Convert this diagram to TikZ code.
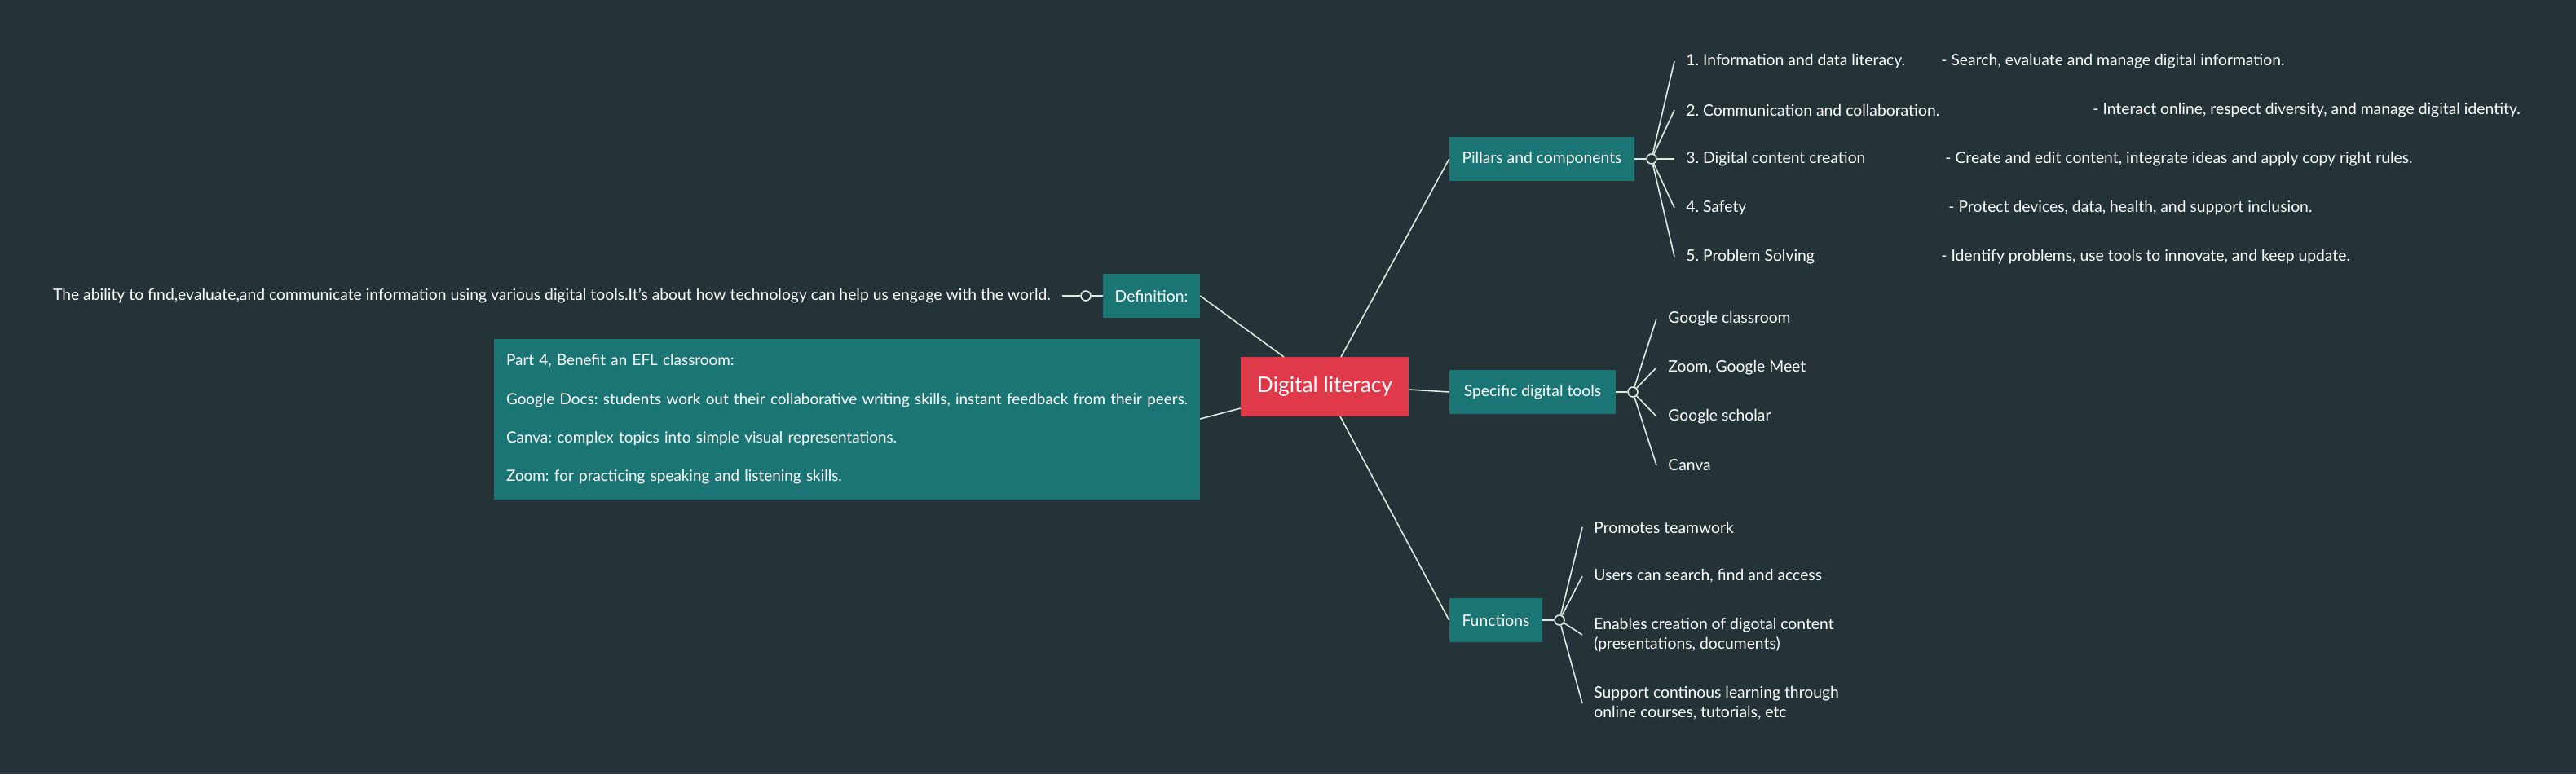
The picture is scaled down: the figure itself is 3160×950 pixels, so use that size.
\documentclass[tikz,border=0pt]{standalone}
\usepackage{fontspec}
\setmainfont{Lato}
\usetikzlibrary{calc}
\frenchspacing

\definecolor{bgslate}{HTML}{233338}
\definecolor{tealbox}{HTML}{1B7574}
\definecolor{rootred}{HTML}{E03A4A}
\definecolor{linkmint}{HTML}{DCEFE4}

\tikzset{
    topic/.style = {fill=tealbox, text=white, inner sep=0pt, minimum height=1.08cm, font=\fontsize{11pt}{13.6pt}\selectfont},
    leaf/.style = {text=white, inner xsep=0.28cm, inner ysep=0pt, align=left, font=\fontsize{11pt}{13.6pt}\selectfont},
    note/.style = {text=white, inner sep=0pt, anchor=west, font=\fontsize{11pt}{13.6pt}\selectfont},
    branch/.style = {draw=linkmint, line width=0.9pt},
    knot/.style = {circle, draw=linkmint, line width=0.9pt, fill=bgslate, inner sep=0pt, minimum size=0.24cm}
}

\begin{document}
\begin{tikzpicture}[x=0.02cm, y=-0.02cm]
    % Background
    \fill[bgslate] (0,0) rectangle (3160,950);
    \useasboundingbox (0,0) rectangle (3160,950);

    % Central topic
    \node[fill=rootred, text=white, minimum width=4.12cm, minimum height=1.46cm, inner sep=0pt, font=\fontsize{15pt}{18pt}\selectfont] (root) at (1625,474.5) {Digital literacy};

    % Main topics
    \node[topic, minimum width=2.38cm] (defn) at (1412.5,363) {Definition:};
    \node[fill=tealbox, text=white, text width=16.72cm, minimum height=3.94cm, inner xsep=0.3cm, inner ysep=0pt, align=left, font=\fontsize{10.75pt}{27pt}\selectfont] (part) at (1039,514.5) {Part 4, Benefit an EFL classroom:\\\mbox{Google Docs: students work out their collaborative writing skills, instant feedback from their peers.}\\Canva: complex topics into simple visual representations.\\Zoom: for practicing speaking and listening skills.};
    \node[topic, minimum width=4.54cm] (pillars) at (1891.5,195) {Pillars and components};
    \node[topic, minimum width=4.08cm] (tools) at (1880,481) {Specific digital tools};
    \node[topic, minimum width=2.28cm] (func) at (1835,761) {Functions};

    \coordinate (rdef) at (1575,438);
    \coordinate (rpil) at (1645,438);
    \coordinate (rfun) at (1644,511);
    \draw[branch] (defn.east) -- (rdef);
    \draw[branch] (part.east |- 0,514) -- (root.west |- 0,501);
    \draw[branch] (rpil) -- (pillars.west);
    \draw[branch] (root.east |- 0,478) -- (tools.west);
    \draw[branch] (rfun) -- (func.west);

    % Definition
    \node[knot] (kdef) at (1332,363) {};
    \node[leaf, anchor=east] (deftext) at (1303,363) {The ability to find,evaluate,and communicate information using various digital tools.It's about how technology can help us engage with the world.};
    \draw[branch] (defn.west) -- (kdef) (kdef) -- (deftext.east);

    % Pillars and components
    \node[knot] (kpil) at (2026,195) {};
    \draw[branch] (pillars.east) -- (kpil);
    \node[leaf, anchor=west] (p1) at (2054,75) {1. Information and data literacy.};
    \node[leaf, anchor=west] (p2) at (2054,135) {2. Communication and collaboration.};
    \node[leaf, anchor=west] (p3) at (2054,195) {3. Digital content creation};
    \node[leaf, anchor=west] (p4) at (2054,255) {4. Safety};
    \node[leaf, anchor=west] (p5) at (2054,315) {5. Problem Solving};
    \foreach \i in {1,...,5}
        \draw[branch] (kpil) -- (p\i.west);
    \node[note] (d1) at (2381,75) {- Search, evaluate and manage digital information.};
    \node[note] (d2) at (2567,135) {- Interact online, respect diversity, and manage digital identity.};
    \node[note] (d3) at (2386,195) {- Create and edit content, integrate ideas and apply copy right rules.};
    \node[note] (d4) at (2390,255) {- Protect devices, data, health, and support inclusion.};
    \node[note] (d5) at (2381,315) {- Identify problems, use tools to innovate, and keep update.};

    % Specific digital tools
    \node[knot] (ktool) at (2003,481) {};
    \draw[branch] (tools.east) -- (ktool);
    \node[leaf, anchor=west] (t1) at (2032,391) {Google classroom};
    \node[leaf, anchor=west] (t2) at (2032,451) {Zoom, Google Meet};
    \node[leaf, anchor=west] (t3) at (2032,511) {Google scholar};
    \node[leaf, anchor=west] (t4) at (2032,571) {Canva};
    \foreach \i in {1,...,4}
        \draw[branch] (ktool) -- (t\i.west);

    % Functions
    \node[knot] (kfun) at (1913,761) {};
    \draw[branch] (func.east) -- (kfun);
    \node[leaf, anchor=west] (f1) at (1941,647) {Promotes teamwork};
    \node[leaf, anchor=west] (f2) at (1941,707) {Users can search, find and access};
    \node[leaf, anchor=west] (f3) at (1941,779) {Enables creation of digotal content\\(presentations, documents)};
    \node[leaf, anchor=west] (f4) at (1941,863) {Support continous learning through\\online courses, tutorials, etc};
    \foreach \i in {1,...,4}
        \draw[branch] (kfun) -- (f\i.west);
\end{tikzpicture}
\end{document}
